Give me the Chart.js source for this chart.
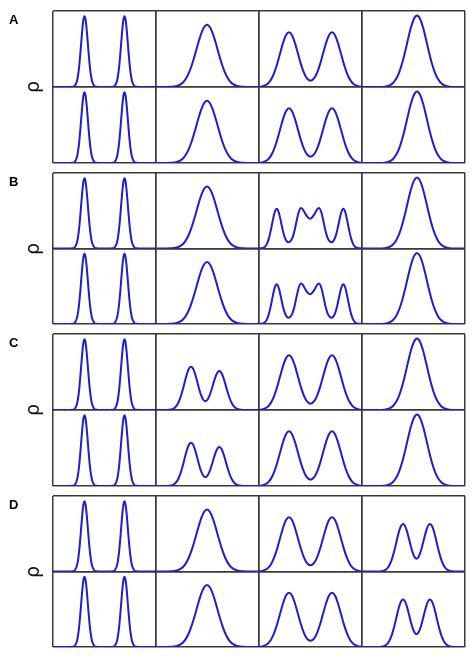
<!DOCTYPE html>
<html><head><meta charset="utf-8">
<script src="https://cdn.jsdelivr.net/npm/chart.js@4/dist/chart.umd.min.js"></script>
<style>
html,body{margin:0;padding:0;background:#fff;}
#wrap{position:relative;width:474px;height:663px;overflow:hidden;background:#fff;}
#wrap canvas{position:absolute;left:0;}
.lab{position:absolute;left:9px;font:bold 13px "Liberation Sans",Arial,sans-serif;line-height:13px;color:#000;}
.rho{position:absolute;left:32px;font:19px "DejaVu Sans",sans-serif;line-height:19px;color:#111;transform:translate(-50%,-50%) rotate(-90deg);}
</style></head><body><div id="wrap"></div>
<script>
// ---- data (x = position across a subplot, y = density as fraction of row height) ----
const panelLabels = ['A', 'B', 'C', 'D'];
const axisLabel = 'ρ';

const narrowX = [0,17.5,19.5,21.5,23.5,24.5,25.5,26.5,27.5,28.5,29.5,30.5,31.5,32.5,33.5,34.5,35.5,36.5,37.5,38.5,39.5,41.5,43.5,45.5,51.5,57.5,59.5,61.5,63.5,64.5,65.5,66.5,67.5,68.5,69.5,70.5,71.5,72.5,73.5,74.5,75.5,76.5,77.5,78.5,79.5,81.5,83.5,85.5,103];
const narrowY = [0,0,0.002,0.012,0.059,0.112,0.196,0.315,0.465,0.630,0.782,0.891,0.93,0.891,0.782,0.630,0.465,0.315,0.196,0.112,0.059,0.012,0.002,0,0,0,0.002,0.012,0.059,0.112,0.196,0.315,0.465,0.630,0.782,0.891,0.93,0.891,0.782,0.630,0.465,0.315,0.196,0.112,0.059,0.012,0.002,0,0];

const broadX = [0,11,15,18,21,24,27,30,33,36,39,42,45,48,51,54,57,60,63,66,69,72,75,78,81,84,87,91,103];
const broadY = [0,0,0.002,0.006,0.014,0.030,0.060,0.111,0.189,0.296,0.427,0.568,0.696,0.787,0.82,0.787,0.696,0.568,0.427,0.296,0.189,0.111,0.060,0.030,0.014,0.006,0.002,0,0];

const tallX = [0,15,19,22,25,28,31,34,37,40,43,46,49,52,55,58,61,64,67,70,73,76,79,82,85,88,91,95,103];
const tallY = [0,0,0.001,0.004,0.010,0.025,0.053,0.104,0.186,0.305,0.457,0.627,0.785,0.899,0.94,0.899,0.785,0.627,0.457,0.305,0.186,0.104,0.053,0.025,0.010,0.004,0.001,0,0];

const doubleX = [0,3,6,9,12,15,18,21,24,27,30,33,36,39,42,45,48,51.5,55,58,61,64,67,70,73,76,79,82,85,88,91,94,97,100,103];
const doubleY = [0.003,0.008,0.021,0.047,0.097,0.179,0.296,0.437,0.577,0.681,0.72,0.681,0.577,0.438,0.298,0.185,0.112,0.083,0.112,0.185,0.298,0.438,0.577,0.681,0.72,0.681,0.577,0.437,0.296,0.179,0.097,0.047,0.021,0.008,0.003];

const fourX = [0,3.7,5.7,7.7,9.7,11.7,13.7,15.7,17.7,19.7,21.7,23.7,25.7,27.7,29.7,31.7,33.7,35.7,37.7,39.7,42,44,46.5,49,51,53,55.5,58,60,62.3,64.3,66.3,68.3,70.3,72.3,74.3,76.3,78.3,80.3,82.3,84.3,86.3,88.3,90.3,92.3,94.3,96.3,98.3,102,103];
const fourY = [0.001,0.006,0.02,0.055,0.124,0.233,0.366,0.48,0.526,0.48,0.37,0.245,0.15,0.098,0.083,0.10,0.15,0.245,0.37,0.48,0.535,0.515,0.455,0.41,0.395,0.41,0.455,0.515,0.535,0.48,0.37,0.245,0.15,0.10,0.083,0.098,0.15,0.245,0.37,0.48,0.526,0.48,0.366,0.233,0.124,0.055,0.02,0.006,0.001,0];

const asymX = [0,9,11,13,15,17,19,21,23,25,27,29,31,33,35,37,39,41,43,45,47,49.15,51.3,53.3,55.3,57.3,59.3,61.3,63.3,65.3,67.3,69.3,71.3,73.3,75.3,77.3,79.3,81.3,83.3,85.3,87.3,89.3,103];
const asymY = [0,0,0.001,0.003,0.007,0.015,0.033,0.064,0.115,0.187,0.279,0.382,0.477,0.545,0.57,0.545,0.478,0.384,0.284,0.199,0.142,0.116,0.133,0.182,0.257,0.346,0.429,0.490,0.513,0.490,0.429,0.344,0.251,0.168,0.103,0.058,0.030,0.014,0.006,0.002,0.001,0,0];

const pairX = [0,15,17,19,21,23,25,27,29,31,33,35,37,39,41,43,45,47,49,51,53,54.5,56,58,60,62,64,66,68,70,72,74,76,78,80,82,84,86,88,90,92,94,103];
const pairY = [0,0,0.001,0.003,0.008,0.018,0.038,0.073,0.130,0.210,0.312,0.425,0.529,0.603,0.63,0.604,0.531,0.430,0.324,0.237,0.183,0.170,0.183,0.237,0.324,0.430,0.531,0.604,0.63,0.603,0.529,0.425,0.312,0.210,0.130,0.073,0.038,0.018,0.008,0.003,0.001,0,0];

// which curve sits in each column of each panel (same for both rows)
const panelA = ['narrow', 'broad', 'double', 'tall'];
const panelB = ['narrow', 'broad', 'four', 'tall'];
const panelC = ['narrow', 'asym', 'double', 'tall'];
const panelD = ['narrow', 'broad', 'double', 'pair'];

// ---- rendering ----
const curves = {
  narrow: [narrowX, narrowY], broad: [broadX, broadY], tall: [tallX, tallY],
  double: [doubleX, doubleY], four: [fourX, fourY], asym: [asymX, asymY], pair: [pairX, pairY]
};
const panels = [panelA, panelB, panelC, panelD];
const layoutTops = [11, 173, 334, 496];
const layoutHeights = [152, 151, 152, 151];
const PAD = 4;
const BLUE = '#1e1ed0';
const FRAME = '#3a3a3a';
const wrap = document.getElementById('wrap');

panels.forEach((cols, p) => {
  const top = layoutTops[p], h = layoutHeights[p];
  const cv = document.createElement('canvas');
  cv.width = 474; cv.height = h + 2 * PAD;
  cv.style.top = (top - PAD) + 'px';
  wrap.appendChild(cv);

  const lab = document.createElement('div');
  lab.className = 'lab'; lab.textContent = panelLabels[p];
  lab.style.top = (top + 2) + 'px';
  wrap.appendChild(lab);
  const rho = document.createElement('div');
  rho.className = 'rho'; rho.textContent = axisLabel;
  rho.style.top = (top + h / 2) + 'px';
  wrap.appendChild(rho);

  const datasets = [];
  for (let r = 0; r < 2; r++) {
    cols.forEach((name, c) => {
      const [xs, ys] = curves[name];
      datasets.push({
        data: xs.map((x, i) => ({x: x, y: ys[i]})),
        xAxisID: 'x' + c, yAxisID: 'y' + r,
        borderColor: BLUE, borderWidth: 2, pointRadius: 0,
        cubicInterpolationMode: 'monotone', fill: false
      });
    });
  }
  const frameGrid = {drawTicks: false, color: FRAME, lineWidth: 1.5};
  const scales = {};
  for (let c = 0; c < 4; c++) {
    scales['x' + c] = {
      type: 'linear', position: 'bottom', stack: 'cols', stackWeight: 1, weight: c,
      min: 0, max: 103, ticks: {display: false, stepSize: 103},
      grid: frameGrid, border: {display: false}
    };
  }
  for (let r = 0; r < 2; r++) {
    scales['y' + r] = {
      type: 'linear', position: 'left', stack: 'rows', stackWeight: 1, weight: 2 - r,
      min: 0, max: 1, ticks: {display: false, stepSize: 1},
      grid: frameGrid, border: {display: false}
    };
  }
  new Chart(cv, {
    type: 'line',
    data: {datasets},
    options: {
      responsive: false, animation: false, devicePixelRatio: 1, events: [],
      layout: {padding: {left: 53, right: 9, top: PAD, bottom: PAD}},
      plugins: {legend: {display: false}, tooltip: {enabled: false}},
      scales
    }
  });
});
</script>
</body></html>
